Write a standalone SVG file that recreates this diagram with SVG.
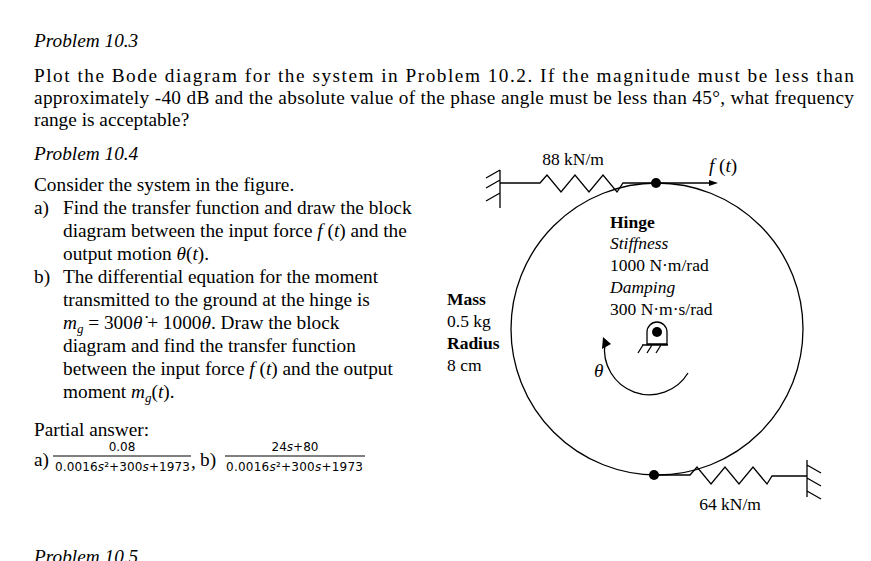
<svg xmlns="http://www.w3.org/2000/svg" width="871" height="561" viewBox="0 0 871 561">
<style>
text{font-family:"Liberation Serif",serif;font-size:19.3px;fill:#000}
.i{font-style:italic}.b{font-weight:bold}
.s{font-size:17.5px}
.m{font-family:"DejaVu Sans",sans-serif;font-size:12px}
.ln{fill:none;stroke:#000;stroke-width:1.3}
</style>
<rect width="871" height="561" fill="#fff"/>
<text x="34" y="47" class="i">Problem 10.3</text>
<text x="34" y="82" textLength="820" lengthAdjust="spacing">Plot the Bode diagram for the system in Problem 10.2. If the magnitude must be less than</text>
<text x="34" y="104" textLength="820" lengthAdjust="spacing">approximately -40 dB and the absolute value of the phase angle must be less than 45°, what frequency</text>
<text x="34" y="126">range is acceptable?</text>
<text x="34" y="160" class="i">Problem 10.4</text>
<text x="34" y="191">Consider the system in the figure.</text>
<text x="34" y="214">a)</text><text x="63" y="214">Find the transfer function and draw the block</text>
<text x="63" y="237">diagram between the input force <tspan class="i">f</tspan> (<tspan class="i">t</tspan>) and the</text>
<text x="63" y="260">output motion <tspan class="i">θ</tspan>(<tspan class="i">t</tspan>).</text>
<text x="34" y="283">b)</text><text x="63" y="283">The differential equation for the moment</text>
<text x="63" y="306">transmitted to the ground at the hinge is</text>
<text x="63" y="329"><tspan class="i">m</tspan><tspan class="i" font-size="13" dy="4">g</tspan><tspan dy="-4"> = 300</tspan><tspan class="i">θ̇</tspan> + 1000<tspan class="i">θ</tspan>. Draw the block</text>
<text x="63" y="352">diagram and find the transfer function</text>
<text x="63" y="375">between the input force <tspan class="i">f</tspan> (<tspan class="i">t</tspan>) and the output</text>
<text x="63" y="398">moment <tspan class="i">m</tspan><tspan class="i" font-size="13" dy="4">g</tspan><tspan dy="-4">(</tspan><tspan class="i">t</tspan>).</text>
<text x="34" y="436">Partial answer:</text>
<text x="34" y="466">a)</text>
<text x="122" y="451" class="m" text-anchor="middle">0.08</text>
<line x1="53" y1="456" x2="191" y2="456" stroke="#000"/>
<text x="55" y="471" class="m" textLength="135">0.0016<tspan class="i">s</tspan>²+300<tspan class="i">s</tspan>+1973</text>
<text x="191" y="468">,</text>
<text x="200" y="466">b)</text>
<text x="295" y="451" class="m" text-anchor="middle">24<tspan class="i">s</tspan>+80</text>
<line x1="225" y1="456" x2="365" y2="456" stroke="#000"/>
<text x="226" y="471" class="m" textLength="137">0.0016<tspan class="i">s</tspan>²+300<tspan class="i">s</tspan>+1973</text>
<text x="34" y="563" class="i">Problem 10.5</text>

<g id="disk"><circle cx="657" cy="329" r="146" class="ln"/></g>
<g id="springTop">
<path class="ln" d="M500 170V208M500 180l-14 8M500 193l-14 8M500 170l-14 8M500 183H540l7 -8l14 17l14 -17l14 17l14 -17l14 17l6 -9H656"/>
<text x="573" y="165" class="s" text-anchor="middle">88 kN/m</text>
</g>
<g id="force">
<line x1="656" y1="183" x2="712" y2="183" stroke="#000" stroke-width="1.3"/>
<path d="M718 183l-9-3v6z"/>
<text x="709" y="172" class="i" font-size="17">f</text><text x="719" y="172" font-size="17">(<tspan class="i">t</tspan>)</text>
<circle cx="656" cy="183" r="5"/>
</g>
<g id="springBottom">
<path class="ln" d="M654 475H690l7 -8l14 17l14 -17l14 17l14 -17l14 17l5 -8H807M807 460V497M807 465l14 8M807 478l14 8M807 491l14 8"/>
<circle cx="654" cy="475" r="5"/>
<text x="730" y="510" class="s" text-anchor="middle">64 kN/m</text>
</g>
<g id="hinge">
<text x="610" y="228" class="b s">Hinge</text>
<text x="610" y="249" class="i s">Stiffness</text>
<text x="610" y="271" class="s">1000 N·m/rad</text>
<text x="610" y="293" class="i s">Damping</text>
<text x="610" y="315" class="s">300 N·m·s/rad</text>
<path class="ln" d="M647 344V332a10 10 0 0 1 20 0V344ZM643 345l-5 8M652 345l-5 8M661 345l-5 8M642 345H668"/>
<circle cx="657" cy="332" r="5"/>
</g>
<g id="theta">
<path class="ln" d="M688 373A45 45 0 0 1 605 343"/>
<path d="M603 337l-1 12l9-5z"/>
<text x="594" y="377" class="i" font-size="15">θ</text>
</g>
<g id="massLabel">
<text x="447" y="305" class="b s">Mass</text>
<text x="447" y="327" class="s">0.5 kg</text>
<text x="447" y="349" class="b s">Radius</text>
<text x="447" y="371" class="s">8 cm</text>
</g>
</svg>
